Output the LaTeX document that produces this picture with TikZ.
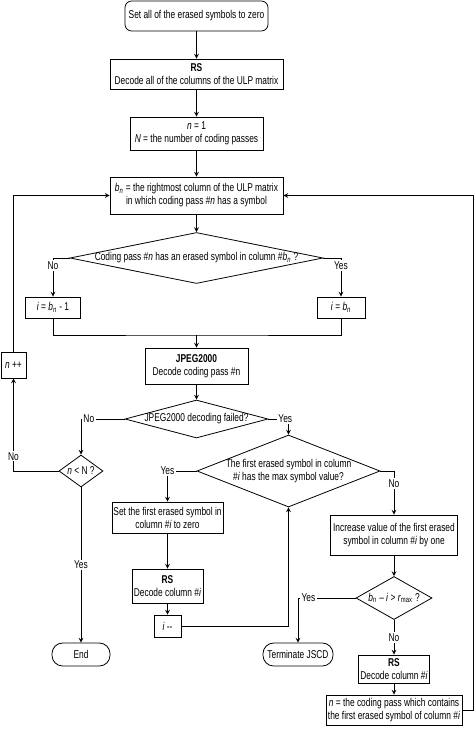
\documentclass[tikz,border=0pt]{standalone}
\usepackage{fontspec}
\setmainfont{Liberation Sans}[FakeStretch=0.74]
\usepackage{tikz}
\usetikzlibrary{shapes.geometric}

\begin{document}
\begin{tikzpicture}[x=0.75pt,y=-0.75pt,->,>=stealth,line width=0.6pt,
	every node/.style={font=\fontsize{8.5}{9.8}\selectfont},
	box/.style={draw,rectangle,align=center,inner sep=1pt},
	term/.style={draw,rectangle,rounded corners=8pt,align=center,inner sep=1pt},
	dec/.style={draw,diamond,inner sep=0pt},
	lab/.style={fill=white,inner sep=1pt}]
		
		\useasboundingbox (0,0) rectangle (474,732);
		
		\node[term, rounded corners=5pt, minimum width=107.25pt, minimum height=22.5pt] (init) at (196.5,16) {Set all of the erased symbols to zero};
		\node[box, minimum width=129.75pt, minimum height=22.5pt] (rs1) at (196.5,74) {\textbf{RS}\\Decode all of the columns of the ULP matrix};
		\node[box, minimum width=99.75pt, minimum height=24.75pt] (setn) at (196.5,133.5) {\textit{n} = 1\\\textit{N} = the number of coding passes};
		\node[box, minimum width=129.75pt, minimum height=27.75pt] (bn) at (196.5,195.5) {\textit{b}\textsubscript{\textit{n}} = the rightmost column of the ULP matrix\\in which coding pass \#\textit{n} has a symbol};
		\node[dec, minimum width=189.75pt, minimum height=38.25pt, label={[align=center]center:{Coding pass \#\textit{n} has an erased symbol in column \#\textit{b}\textsubscript{\textit{n}} ?}}] (d1) at (196.5,258) {};
		\node[box, minimum width=41.25pt, minimum height=15.75pt] (inl) at (53,307.5) {\textit{i} = \textit{b}\textsubscript{\textit{n}} - 1};
		\node[box, minimum width=36pt, minimum height=15.75pt] (inr) at (341,307.5) {\textit{i} = \textit{b}\textsubscript{\textit{n}}};
		\coordinate (mrg) at (196.5,335);
		\node[box, minimum width=77.25pt, minimum height=27pt] (jpeg) at (196.5,366) {\textbf{JPEG2000}\\Decode coding pass \#n};
		\node[box, minimum width=18.75pt, minimum height=19.5pt] (npp) at (13.5,365) {\textit{n} ++};
		\node[dec, minimum width=107.25pt, minimum height=28.5pt, label={center:{JPEG2000 decoding failed?}}] (d2) at (196.5,419) {};
		\node[dec, minimum width=137.25pt, minimum height=54pt, label={[align=center]center:{The first erased symbol in column\\\#\textit{i} has the max symbol value?}}] (d3) at (288.5,471) {};
		\node[dec, minimum width=33pt, minimum height=24pt, label={center:{\textit{n} < N ?}}] (dn) at (81,471) {};
		\node[box, minimum width=83.25pt, minimum height=23.25pt] (set0) at (167.5,517.5) {Set the first erased symbol in\\column \#\textit{i} to zero};
		\node[box, minimum width=95.25pt, minimum height=30pt] (inc) at (394,535) {Increase value of the first erased\\symbol in column \#\textit{i} by one};
		\node[box, minimum width=53.25pt, minimum height=25.5pt] (rs2) at (167.5,586) {\textbf{RS}\\Decode column \#\textit{i}};
		\node[box, minimum width=20.25pt, minimum height=16.5pt] (idec) at (167.5,626) {\textit{i} -{}-};
		\node[dec, minimum width=57pt, minimum height=32.25pt, label={center:{\textit{b}\textsubscript{\textit{n}} – \textit{i} > \textit{r}\textsubscript{max} ?}}] (d4) at (394,598) {};
		\node[term, minimum width=52.5pt, minimum height=17.25pt] (jscd) at (298,654.5) {Terminate JSCD};
		\node[box, minimum width=53.25pt, minimum height=21pt] (rs3) at (394,669) {\textbf{RS}\\Decode column \#\textit{i}};
		\node[box, minimum width=102pt, minimum height=22.5pt] (last) at (394,710) {\textit{n} = the coding pass which contains\\the first erased symbol of column \#\textit{i}};
		\node[term, minimum width=43.5pt, minimum height=17.25pt] (end) at (81,654.5) {End};
		\coordinate (rt) at (473,195.5);
		
		\path
		(init) edge (rs1)
		(rs1) edge (setn)
		(setn) edge (bn)
		(bn) edge (d1)
		(mrg) edge (jpeg)
		(jpeg) edge (d2)
		(set0) edge (rs2)
		(rs2) edge (idec)
		(inc) edge (d4)
		(d4) edge node[lab] {No} (rs3)
		(rs3) edge (last)
		(dn) edge node[lab] {Yes} (end);
		
		\draw (d1.west) -| node[lab, pos=0.6] {No} (inl.north);
		\draw (d1.east) -| node[lab, pos=0.6] {Yes} (inr.north);
		\draw[-] (inl.south) |- (mrg) -| (inr.south);
		\draw (d2.west) -| node[lab, pos=0.41] {No} (dn.north);
		\draw (d2.east) -| node[lab, pos=0.42] {Yes} (d3.north);
		\draw (d3.west) -| node[lab] {Yes} (set0.north);
		\draw (d3.east) -| node[lab, pos=0.64] {No} (inc.north);
		\draw (idec.east) -| (d3.south);
		\draw (d4.west) -| node[lab, pos=0.41] {Yes} (jscd.north);
		\draw (dn.west) -| node[lab, pos=0.58] {No} (npp.south);
		\draw (npp.north) |- (bn.west);
		\draw (last.east) -| (rt) -- (bn.east);
		
\end{tikzpicture}
\end{document}
